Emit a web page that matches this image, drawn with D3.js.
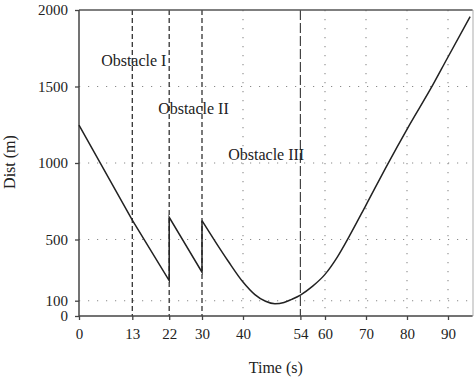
<!DOCTYPE html>
<html>
<head>
<meta charset="utf-8">
<script src="https://cdn.jsdelivr.net/npm/d3@7"></script>
<style>
  html, body { margin: 0; padding: 0; background: #fff; }
  svg { display: block; }
  text { font-family: "Liberation Serif", "Times New Roman", serif; fill: #222; }
</style>
</head>
<body>
<svg id="chart" width="474" height="379"></svg>
<script>
// ---- data ----
const xTicks = [0, 13, 22, 30, 40, 54, 60, 70, 80, 90];
const yTicks = [0, 100, 500, 1000, 1500, 2000];
const gridX = [40, 60, 70, 80, 90];
const gridY = [100, 500, 1000, 1500];
const obstacleShort = [13, 22, 30];
const obstacleLong = [54];
// sawtooth part (linear segments, with jumps at 22 s and 30 s)
const sawTime = [0, 13, 22, 22, 30, 30];
const sawDist = [1248, 627, 231, 645, 286, 623];
// smooth part after the last jump
const smoothTime = [30, 33.2, 36.4, 40, 42.9, 45.5, 47.8, 50, 51.9, 54, 57, 60, 63, 66, 70, 75.4, 80.1, 86.4, 89.7, 95.4];
const smoothDist = [623, 488, 358, 222, 140, 96, 80, 88, 109, 137, 195, 272, 385, 525, 725, 998, 1225, 1515, 1678, 1956];
const labels = ["Obstacle I", "Obstacle II", "Obstacle III"];
const labelTime = [5.4, 19.3, 36.4];
const labelDist = [1635, 1320, 1018];

// ---- layout ----
const svg = d3.select("#chart");
const x = d3.scaleLinear().domain([0, 96]).range([79, 472.6]);
const y = d3.scaleLinear().domain([0, 2000]).range([316, 10]);
const yTop = y(2000), yBottom = y(0), xLeft = x(0), xRight = x(96);

// grid (dotted)
svg.append("g").selectAll("line").data(gridX).join("line")
  .attr("x1", d => x(d)).attr("x2", d => x(d))
  .attr("y1", yTop).attr("y2", yBottom)
  .attr("stroke", "#8a8a8a").attr("stroke-width", 1.1)
  .attr("stroke-dasharray", "1.2,7.8");
svg.append("g").selectAll("line").data(gridY).join("line")
  .attr("x1", xLeft).attr("x2", xRight)
  .attr("y1", d => y(d)).attr("y2", d => y(d))
  .attr("stroke", "#8a8a8a").attr("stroke-width", 1.1)
  .attr("stroke-dasharray", "1.2,7.8");

// obstacle lines
svg.append("g").selectAll("line").data(obstacleShort).join("line")
  .attr("x1", d => x(d)).attr("x2", d => x(d))
  .attr("y1", yTop).attr("y2", yBottom)
  .attr("stroke", "#333").attr("stroke-width", 1.3)
  .attr("stroke-dasharray", "5,3");
svg.append("g").selectAll("line").data(obstacleLong).join("line")
  .attr("x1", d => x(d)).attr("x2", d => x(d))
  .attr("y1", yTop).attr("y2", yBottom)
  .attr("stroke", "#444").attr("stroke-width", 1.2)
  .attr("stroke-dasharray", "10,3");

// right edge (faint) and top border
svg.append("line").attr("x1", 473).attr("x2", 473).attr("y1", yTop).attr("y2", yBottom)
  .attr("stroke", "#d6d6d6").attr("stroke-width", 2);
svg.append("line").attr("x1", xLeft).attr("x2", xRight).attr("y1", yTop).attr("y2", yTop)
  .attr("stroke", "#555").attr("stroke-width", 1.5);

// axes
const fmt = d3.format("d");
const xAxis = svg.append("g").attr("transform", `translate(0,${yBottom})`)
  .call(d3.axisBottom(x).tickValues(xTicks).tickFormat(fmt).tickSize(4).tickSizeOuter(0).tickPadding(8));
const yAxis = svg.append("g").attr("transform", `translate(${xLeft},0)`)
  .call(d3.axisLeft(y).tickValues(yTicks).tickFormat(fmt).tickSize(4).tickSizeOuter(0).tickPadding(7));
[xAxis, yAxis].forEach(g => {
  g.select(".domain").attr("stroke", "#444").attr("stroke-width", 1.5);
  g.selectAll(".tick line").attr("stroke", "#444").attr("stroke-width", 1.3);
  g.selectAll(".tick text").attr("font-family", "Liberation Serif, serif")
    .attr("font-size", 15).attr("fill", "#222");
});
xAxis.select(".domain").attr("d", `M${xLeft},0H${xRight}`);
yAxis.select(".domain").attr("d", `M0,${yTop}V${yBottom}`);

// curve
const sawData = sawTime.map((t, i) => [t, sawDist[i]]);
const smoothData = smoothTime.map((t, i) => [t, smoothDist[i]]);
svg.append("path").datum(sawData)
  .attr("d", d3.line().x(d => x(d[0])).y(d => y(d[1])))
  .attr("fill", "none").attr("stroke", "#222").attr("stroke-width", 1.5);
svg.append("path").datum(smoothData)
  .attr("d", d3.line().x(d => x(d[0])).y(d => y(d[1])).curve(d3.curveMonotoneX))
  .attr("fill", "none").attr("stroke", "#222").attr("stroke-width", 1.5);

// annotations
svg.append("g").selectAll("text").data(labels).join("text")
  .attr("x", (d, i) => x(labelTime[i]))
  .attr("y", (d, i) => y(labelDist[i]))
  .attr("font-size", 16)
  .text(d => d);

// axis titles
svg.append("text").attr("x", (xLeft + xRight) / 2).attr("y", 373)
  .attr("text-anchor", "middle").attr("font-size", 16).text("Time (s)");
svg.append("text").attr("transform", `translate(15,162) rotate(-90)`)
  .attr("text-anchor", "middle").attr("font-size", 16).text("Dist (m)");
</script>
</body>
</html>
